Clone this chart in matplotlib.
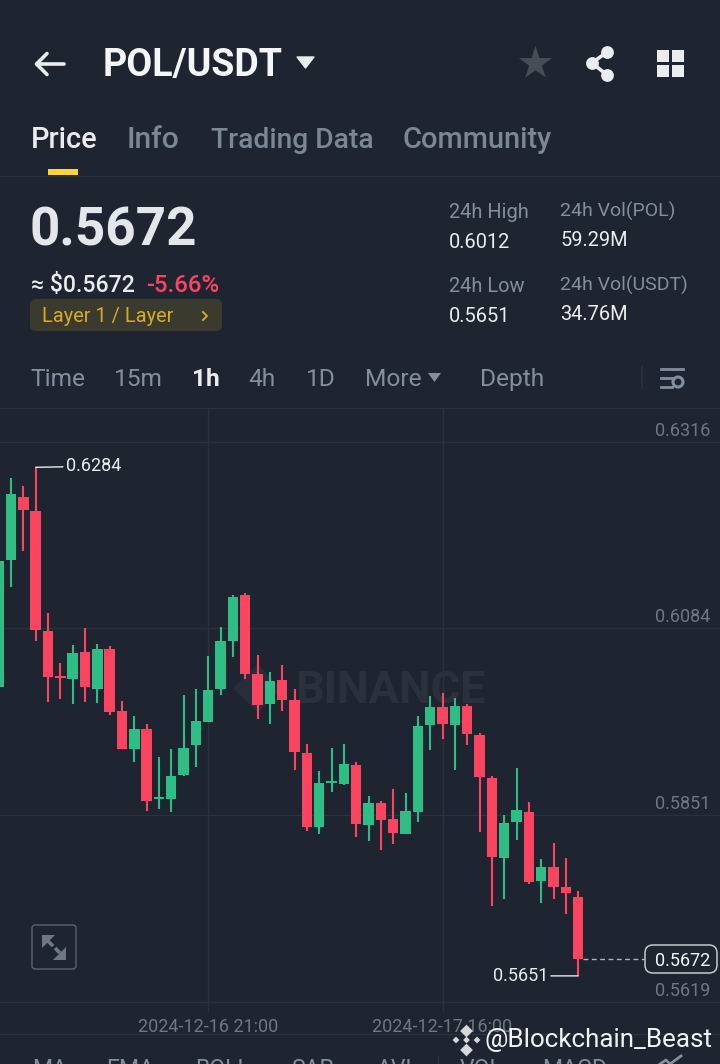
import matplotlib
matplotlib.use("Agg")
import matplotlib.pyplot as plt
from matplotlib.patches import FancyBboxPatch, Polygon, Circle, Rectangle
from matplotlib.transforms import ScaledTranslation

plt.rcParams['font.family'] = ['Roboto', 'DejaVu Sans']

BG = '#1e2530'; GRID = '#2b323d'; GREEN = '#2ebd85'; RED = '#fb4560'
GREY = '#848e9c'; TAB = '#7d8694'; WHITE = '#eaecef'; AXT = '#6f7783'

# candles: top of body, bottom of body, high, low (prices)
body_top = [.61679,.62504,.62472,.62301,.60799,.60235,.60530,.60543,.60580,.60580,.59808,.59588,
            .59579,.58729,.58999,.59348,.59679,.60070,.60679,.61231,.61252,.60272,.60182,.60198,
            .59940,.59289,.58907,.58928,.59149,.59136,.58667,.58667,.58459,.58559,.59622,.59862,
            .59862,.59870,.59870,.59509,.58969,.58418,.58576,.58555,.57867,.57867,.57618,.57497]
body_bot = [.60111,.61691,.62314,.60811,.60231,.60219,.60202,.60111,.60082,.59799,.59339,.59339,
            .58692,.58717,.58713,.59012,.59380,.59666,.60082,.60683,.60272,.59883,.59899,.59945,
            .59293,.58368,.58360,.58916,.58900,.58402,.58389,.58452,.58290,.58281,.58551,.59634,
            .59641,.59634,.59522,.58982,.57991,.57979,.58422,.57680,.57692,.57621,.57543,.56720]
highs = [.61679,.62703,.62612,.62840,.61032,.60401,.60633,.60841,.60642,.60621,.59933,.59750,
         .59650,.59239,.59339,.60002,.60082,.60493,.60854,.61256,.61272,.60509,.60289,.60381,
         .60086,.59401,.59061,.59351,.59401,.59169,.58750,.58692,.58837,.58788,.59750,.59999,
         .60032,.59974,.59890,.59529,.58999,.58518,.59099,.58676,.57966,.58165,.57979,.57568]
lows = [.60111,.61351,.61795,.60683,.59920,.59961,.59890,.59920,.59911,.59753,.59339,.59169,
        .58559,.58588,.58551,.58994,.59111,.59666,.60002,.60484,.60202,.59704,.59641,.59803,
        .59069,.58310,.58281,.58804,.58891,.58240,.58190,.58082,.58153,.58281,.58422,.59318,
        .59463,.59069,.59385,.58302,.57381,.57463,.58203,.57650,.57414,.57463,.57277,.56510]
is_up = [1,1,0,0,0,0,1,0,1,0,0,1,0,1,1,1,1,1,1,1,0,0,1,0,0,0,1,1,1,0,1,0,0,1,1,1,0,1,0,0,0,1,1,0,1,0,0,0]

price_ticks = [0.6316, 0.6084, 0.5851, 0.5619]
time_tick_pos = [17, 36]
time_tick_labels = ['2024-12-16 21:00', '2024-12-17 16:00']
last_price = 0.5672
high_price = 0.6284
low_price = 0.5651

W, H = 720, 1064
fig = plt.figure(figsize=(7.2, 10.64), dpi=100, facecolor=BG)

# UI layer in pixel coordinates
ui = fig.add_axes([0, 0, 1, 1], zorder=0)
ui.set_xlim(0, W); ui.set_ylim(H, 0); ui.axis('off')

def T(x, y, s, size, color, weight='normal', ha='left', **kw):
    return ui.text(x, y + 2, s, fontsize=size * 0.72, color=color, fontweight=weight, ha=ha, va='center', **kw)

# header
ui.plot([37, 64], [64, 64], color=WHITE, lw=2.6, solid_capstyle='round')
ui.plot([47, 36.5, 47], [53.5, 64, 74.5], color=WHITE, lw=2.6, solid_capstyle='round', solid_joinstyle='round')
T(103, 63, 'POL/USDT', 37.5, '#f5f6f7', 'bold')
ui.add_patch(Polygon([[297, 57], [314, 57], [305.5, 68]], closed=True, fc=WHITE, ec=WHITE, lw=1, joinstyle='round'))
ui.scatter([535], [63], marker='*', s=640, color='#474d57', linewidths=0)
ui.plot([607, 592, 607], [52, 63, 75], color=WHITE, lw=2.6)
ui.scatter([607, 592, 607], [52, 63, 75], s=85, color=WHITE, linewidths=0)
for gx, gy in [(657, 50), (672, 50), (657, 65), (672, 65)]:
    ui.add_patch(Rectangle((gx, gy), 12, 12, fc=WHITE, ec='none'))

# tabs
T(31, 138, 'Price', 29, WHITE, 'medium')
T(127, 138, 'Info', 30, TAB, 'medium')
T(211, 138, 'Trading Data', 28.2, TAB, 'medium')
T(403, 138, 'Community', 29, TAB, 'medium')
ui.add_patch(Rectangle((48, 169), 30, 6, fc='#fcd535', ec='none', zorder=3))
ui.plot([0, W], [176, 176], color=GRID, lw=1)

# ticker
T(30, 229, '0.5672', 53, '#e4e7ea', 'bold')
T(31, 283, '≈ $0.5672', 23, WHITE, 'medium')
T(146, 283, '-5.66%', 24, RED, 'medium')
ui.add_patch(FancyBboxPatch((34, 303), 184, 24, boxstyle='round,pad=4,rounding_size=6', fc='#3b3a2f', ec='none'))
T(42, 315, 'Layer 1 / Layer', 20, '#d6ab22')
ui.plot([203, 207, 203], [312, 316, 320], color='#d6ab22', lw=1.4)
T(449, 211, '24h High', 20, GREY); T(449, 240, '0.6012', 20, WHITE)
T(449, 285, '24h Low', 20, GREY); T(449, 314, '0.5651', 20, WHITE)
T(560, 209, '24h Vol(POL)', 19.5, GREY); T(560, 238, '59.29M', 20, WHITE)
T(560, 283, '24h Vol(USDT)', 19.5, GREY); T(560, 312, '34.76M', 20, WHITE)

# timeframe row
for x, s in [(30, 'Time'), (114, '15m'), (248, '4h'), (306, '1D'), (365, 'More'), (480, 'Depth')]:
    T(x, 377.5, s, 24.5, GREY)
T(192, 377.5, '1h', 24.5, WHITE, 'bold')
ui.add_patch(Polygon([[428, 373], [441, 373], [434.5, 382]], closed=True, fc=GREY, ec='none'))
ui.plot([642, 642], [367, 388], color=GRID, lw=1.2)
ui.plot([661, 683], [369, 369], color=GREY, lw=2)
ui.plot([661, 672], [378, 378], color=GREY, lw=2)
ui.plot([661, 672], [387, 387], color=GREY, lw=2)
ui.add_patch(Circle((678, 382), 5, fc='none', ec=GREY, lw=2.2))
ui.plot([0, W], [408, 408], color=GRID, lw=1)
ui.plot([0, W], [1034, 1034], color=GRID, lw=1)

# bottom row
for x, s in [(32, 'MA'), (106, 'EMA'), (195, 'BOLL'), (291, 'SAR'), (377, 'AVL'), (460, 'VOL'), (542, 'MACD')]:
    T(x, 1068, s, 23, GREY)
ui.plot([438, 438], [1056, 1064], color=GRID, lw=1)
ui.plot([660, 666, 670, 681], [1064, 1060, 1064, 1056], color=GREY, lw=2)

# chart
PX = 0.00012446
P0 = 0.68656
ax = fig.add_axes([0, 1 - 1012 / H, 1, (1012 - 408) / H], zorder=1)
ax.patch.set_alpha(0)
step = 12.33
ax.set_xlim(1 - 11 / step, 1 + 709 / step)
ax.set_ylim(P0 - PX * 1012, P0 - PX * 408)
for s in ax.spines.values():
    s.set_visible(False)

ax.set_yticks(price_ticks)
ax.set_yticklabels([f'{p:.4f}' for p in price_ticks])
ax.yaxis.tick_right()
ax.tick_params(axis='y', length=0, pad=-65 * 0.72, labelsize=18 * 0.72, labelcolor=AXT)
ax.set_xticks(time_tick_pos)
ax.set_xticklabels(time_tick_labels)
ax.tick_params(axis='x', length=0, pad=4, labelsize=18 * 0.72, labelcolor=AXT)
ax.grid(True, color=GRID, lw=1)
ax.set_axisbelow(True)
off = ScaledTranslation(0, 13 / 100, fig.dpi_scale_trans)
for lab in ax.get_yticklabels():
    lab.set_transform(lab.get_transform() + off)
    lab.set_clip_on(False)

# watermark
ax.text(0.542, 0.531, 'BINANCE', transform=ax.transAxes, fontsize=45 * 0.72, fontweight='bold',
        color='#2a313c', ha='center', va='center', zorder=1)
ax.scatter([0.334, 0.358], [0.536, 0.536], transform=ax.transAxes, marker='D', s=[50, 600],
           color=['#2b323d', '#272e39'], linewidths=0, zorder=1)

for i in range(len(body_top)):
    c = GREEN if is_up[i] else RED
    ax.vlines(i, lows[i], highs[i], color=c, lw=1.5, zorder=3)
    h = max(body_top[i] - body_bot[i], 0.00018)
    ax.bar(i, h, bottom=body_bot[i], width=10.4 / step, color=c, linewidth=0, zorder=4)

n = len(body_top) - 1
# high / low / last annotations
ax.annotate(f'{high_price:.4f}', xy=(3, high_price), xytext=(30, 1), textcoords='offset pixels',
            color=WHITE, fontsize=18 * 0.72, va='center', ha='left',
            arrowprops=dict(arrowstyle='-', color=WHITE, lw=1, shrinkA=0, shrinkB=0), zorder=6)
ax.annotate(f'{low_price:.4f}', xy=(n, low_price), xytext=(-30, 0), textcoords='offset pixels',
            color=WHITE, fontsize=18 * 0.72, va='center', ha='right',
            arrowprops=dict(arrowstyle='-', color=WHITE, lw=1, shrinkA=0, shrinkB=0), zorder=6)
ax.plot([n + 0.4, n + 5.3], [last_price, last_price], color='#aeb4bc', lw=1, ls=(0, (3.5, 2.5)), zorder=5)
ax.annotate(f'{last_price:.4f}', xy=(n + 5.3, last_price), xytext=(683, 1064 - 961), textcoords='figure pixels',
            color='#f5f6f7', fontsize=18 * 0.72, va='center', ha='center', annotation_clip=False, zorder=6)

# overlay decorations
top = fig.add_axes([0, 0, 1, 1], zorder=2)
top.set_xlim(0, W); top.set_ylim(H, 0); top.axis('off')
top.add_patch(FancyBboxPatch((651, 951), 60, 16, boxstyle='round,pad=6,rounding_size=8', fc='none', ec='#c4c8cd', lw=1.1))
top.add_patch(FancyBboxPatch((35, 928), 38, 38, boxstyle='round,pad=3,rounding_size=3', fc=BG, ec='#5b6370', lw=1))
top.plot([48, 53], [941, 946], color='#6f7783', lw=2.6, solid_capstyle='butt')
top.plot([60, 55], [953, 948], color='#6f7783', lw=2.6, solid_capstyle='butt')
top.add_patch(Polygon([[42, 935], [55, 935], [42, 948]], closed=True, fc='#6f7783', ec='none'))
top.add_patch(Polygon([[66, 960], [53, 960], [66, 947]], closed=True, fc='#6f7783', ec='none'))
top.text(484, 1040, '@Blockchain_Beast', fontsize=26 * 0.72, color='#f2f3f5', ha='left', va='center')
top.scatter([456, 477, 466.5, 466.5, 466.5], [1040, 1040, 1031, 1050, 1040], marker='D', s=[12, 12, 42, 42, 12],
            color='#d5d7db', linewidths=0)

fig.savefig('out.png', dpi=100, facecolor=BG)
